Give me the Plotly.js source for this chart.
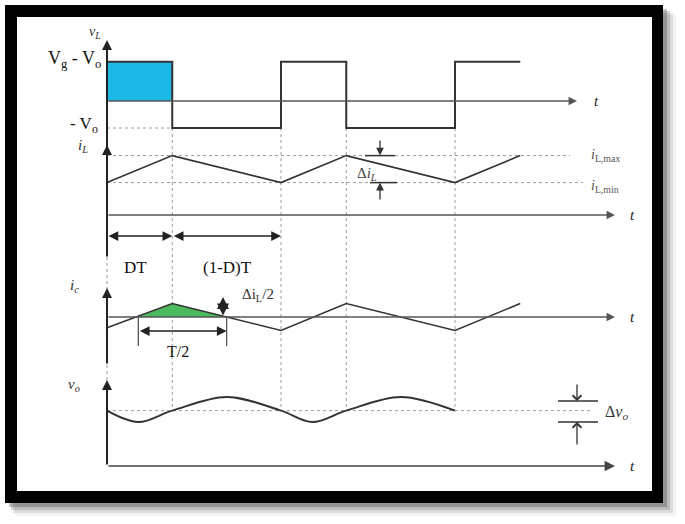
<!DOCTYPE html>
<html><head><meta charset="utf-8">
<script src="https://cdn.plot.ly/plotly-3.0.1.min.js"></script>
<style>html,body{margin:0;padding:0;background:#fff;} #chart{width:685px;height:524px;}</style>
</head><body><div id="chart"></div>
<script>
// ---------- data: time in units of T, signals in normalized units ----------
const tVL    = [0, 0.375, 0.375, 1, 1, 1.375, 1.375, 2, 2, 2.375];
const vL     = [1.45, 1.45, -1, -1, 1.45, 1.45, -1, -1, 1.45, 1.45];
const tTri   = [0, 0.375, 1, 1.375, 2, 2.375];
const iL     = [1.2, 2.2, 1.2, 2.2, 1.2, 2.2];
const ic     = [-0.4, 0.5, -0.5, 0.5, -0.5, 0.5];
const tVo    = [0, 0.18, 0.375, 0.6875, 1, 1.18, 1.375, 1.6875, 2];
const vo     = [2.05, 1.63, 2.05, 2.56, 2.05, 1.63, 2.05, 2.56, 2.05];
const tBlue  = [0, 0, 0.375, 0.375];
const vBlue  = [0, 1.45, 1.45, 0];
const tGreen = [0.18, 0.375, 0.6875];
const icGreen= [0, 0.5, 0];
const switchTimes = [0.375, 1, 1.375, 2];
const VgVo = 1.45, minusVo = -1, iLmax = 2.2, iLmin = 1.2, voAvg = 2.05;

// ---------- layout geometry ----------
const W = 685, H = 524, S = 27, X0 = 107, PT = 174;
const Z = {y: 101, y2: 215, y3: 317, y4: 466};   // pixel row of each panel's zero
const SERIF = 'Liberation Serif, Times New Roman, serif';
const tx = px => (px - X0) / PT;
const vy = (ax, py) => (Z[ax] - py) / S;
const pyOf = (ax, v) => Z[ax] - S * v;
const PX = px => px / W, PY = py => 1 - py / H;
const yr = z => [(z - H) / S, z / S];

const LINE = '#333';
const traces = [
  {x: tBlue, y: vBlue, yaxis: 'y', fill: 'toself', fillcolor: '#1cb8e6', line: {width: 0}, mode: 'lines'},
  {x: tGreen, y: icGreen, yaxis: 'y3', fill: 'toself', fillcolor: '#4cb95e', line: {width: 0}, mode: 'lines'},
  {x: tVL, y: vL, yaxis: 'y', mode: 'lines', line: {color: LINE, width: 2}},
  {x: tTri, y: iL, yaxis: 'y2', mode: 'lines', line: {color: LINE, width: 1.6}},
  {x: tTri, y: ic, yaxis: 'y3', mode: 'lines', line: {color: LINE, width: 1.6}},
  {x: tVo, y: vo, yaxis: 'y4', mode: 'lines', line: {color: LINE, width: 2, shape: 'spline', smoothing: 1}}
];

const shapes = [];
// frame with shadow
[[9,9,667,507,0.22],[11,11,670,510,0.14],[13,13,673,513,0.09],[15,15,676,516,0.05]].forEach(s => {
  shapes.push({type:'rect', xref:'paper', yref:'paper', x0:PX(s[0]), y0:PY(s[1]), x1:PX(s[2]), y1:PY(s[3]),
    fillcolor:'rgba(0,0,0,'+s[4]+')', line:{width:0}, layer:'below'});
});
shapes.push({type:'rect', xref:'paper', yref:'paper', x0:PX(5), y0:PY(5), x1:PX(663), y1:PY(503), fillcolor:'#000', line:{width:0}, layer:'below'});
shapes.push({type:'rect', xref:'paper', yref:'paper', x0:PX(17), y0:PY(17), x1:PX(652), y1:PY(491), fillcolor:'#fff', line:{width:0}, layer:'below'});

const DOT = {color:'#9a9a9a', width:1, dash:'dot'};
function hline(ax, v, t0, t1, line) { shapes.push({type:'line', xref:'x', yref:ax, x0:t0, x1:t1, y0:v, y1:v, line:line, layer:'below'}); }
function vlinePx(t, py0, py1, line) { shapes.push({type:'line', xref:'x', yref:'paper', x0:t, x1:t, y0:PY(py0), y1:PY(py1), line:line, layer:'below'}); }

hline('y', minusVo, 0, 0.375, DOT);
hline('y2', iLmax, 0, tx(570), DOT);
hline('y2', iLmin, 0, tx(583), DOT);
hline('y4', voAvg, 0, tx(593), DOT);
switchTimes.forEach(t => vlinePx(t, pyOf('y', minusVo), pyOf('y4', voAvg), DOT));
vlinePx(0, 101, 412, DOT);
// ΔiL ticks
hline('y2', iLmax, tx(365), tx(395), {color:'#333', width:1.5});
hline('y2', iLmin, tx(370), tx(397), {color:'#333', width:1.5});
// T/2 ticks
[tGreen[0], tGreen[2]].forEach(t => shapes.push({type:'line', xref:'x', yref:'y3', x0:t, x1:t, y0:0, y1:vy('y3',346), line:{color:'#555', width:1.3}}));
// Δvo ticks
hline('y4', vy('y4',401), tx(558), tx(598), {color:'#333', width:1.5});
hline('y4', vy('y4',422), tx(558), tx(598), {color:'#333', width:1.5});

const ann = [];
function arrow(ax, x, y, axv, ayv, o) {
  ann.push(Object.assign({xref:'x', yref:ax, axref:'x', ayref:ax, x:x, y:y, ax:axv, ay:ayv, text:'', showarrow:true,
    arrowhead:2, arrowsize:1.3, arrowwidth:1.4, arrowcolor:'#444', standoff:0, startstandoff:0}, o || {}));
}
function label(ax, x, y, text, o) {
  ann.push(Object.assign({xref:'x', yref:ax, x:x, y:y, text:text, showarrow:false, xanchor:'center', yanchor:'middle',
    font:{family:SERIF, size:15, color:'#222'}}, o || {}));
}
// time axes
arrow('y', tx(577), 0, 0, 0, {arrowcolor:'#555', arrowwidth:1.3});
arrow('y2', tx(615), 0, 0, 0, {arrowcolor:'#555', arrowwidth:1.3});
arrow('y3', tx(615), 0, 0, 0, {arrowcolor:'#555', arrowwidth:1.3});
arrow('y4', tx(615), 0, 0, 0, {arrowcolor:'#444', arrowwidth:1.6});
label('y', tx(596), 0, '<i>t</i>', {font:{family:SERIF, size:15, color:'#222'}});
['y2','y3','y4'].forEach(a => label(a, tx(632), 0, '<i>t</i>', {font:{family:SERIF, size:15, color:'#222'}}));
// vertical axes
arrow('y', 0, vy('y',40), 0, vy('y',258), {arrowcolor:'#222', arrowwidth:2, arrowsize:1});
arrow('y2', 0, vy('y2',145), 0, vy('y2',160), {arrowcolor:'#222', arrowwidth:2, arrowsize:1});
arrow('y3', 0, vy('y3',288), 0, vy('y3',365), {arrowcolor:'#222', arrowwidth:2, arrowsize:1});
arrow('y4', 0, vy('y4',380), 0, 0, {arrowcolor:'#222', arrowwidth:2, arrowsize:1});
// axis labels
label('y', tx(95), vy('y',32), '<i>v<sub>L</sub></i>', {font:{family:SERIF, size:14, color:'#333'}});
label('y', tx(103), VgVo + 0.08, 'V<sub>g</sub> - V<sub>o</sub>', {xanchor:'right', font:{family:SERIF, size:18, color:'#111'}});
label('y', tx(100), vy('y',125), '- V<sub>o</sub>', {xanchor:'right', font:{family:SERIF, size:17, color:'#111'}});
label('y2', tx(83), vy('y2',146), '<i>i<sub>L</sub></i>', {font:{family:SERIF, size:15, color:'#333'}});
label('y3', tx(74), vy('y3',286), '<i>i<sub>c</sub></i>', {font:{family:SERIF, size:15, color:'#333'}});
label('y4', tx(74), vy('y4',385), '<i>v<sub>o</sub></i>', {font:{family:SERIF, size:15, color:'#333'}});
// iL annotations
label('y2', tx(589), iLmax, '<i>i</i><sub>L,max</sub>', {xanchor:'left', font:{family:SERIF, size:14, color:'#555'}});
label('y2', tx(589), vy('y2',186), '<i>i</i><sub>L,min</sub>', {xanchor:'left', font:{family:SERIF, size:14, color:'#555'}});
arrow('y2', tx(380), iLmax, tx(380), vy('y2',139), {arrowcolor:'#333', arrowwidth:1.3, arrowsize:1.2});
arrow('y2', tx(380), iLmin, tx(380), vy('y2',201), {arrowcolor:'#333', arrowwidth:1.3, arrowsize:1.2});
label('y2', tx(367), vy('y2',174), 'Δ<i>i<sub>L</sub></i>', {font:{family:SERIF, size:15, color:'#444'}});
// DT / (1-D)T
arrow('y2', 0.375, vy('y2',236), 0, vy('y2',236), {arrowside:'end+start', startarrowhead:2, startarrowsize:1.3, arrowcolor:'#222', arrowwidth:1.5});
arrow('y2', 1, vy('y2',236), 0.375, vy('y2',236), {arrowside:'end+start', startarrowhead:2, startarrowsize:1.3, arrowcolor:'#222', arrowwidth:1.5});
label('y2', tx(135), vy('y2',267), 'DT', {font:{family:SERIF, size:17, color:'#111'}});
label('y2', tx(227), vy('y2',267), '(1-D)T', {font:{family:SERIF, size:17, color:'#111'}});
// ic annotations
arrow('y3', tx(223), vy('y3',297), tx(223), vy('y3',317), {arrowside:'end+start', startarrowhead:2, startarrowsize:1.6, arrowsize:1.6, arrowcolor:'#222', arrowwidth:1.5});
label('y3', tx(258), vy('y3',295), 'Δi<sub>L</sub>/2', {font:{family:SERIF, size:15, color:'#333'}});
arrow('y3', tGreen[2], vy('y3',331), tGreen[0], vy('y3',331), {arrowside:'end+start', startarrowhead:2, startarrowsize:1.3, arrowcolor:'#222', arrowwidth:1.5});
label('y3', tx(178), vy('y3',351), 'T/2', {font:{family:SERIF, size:16, color:'#111'}});
// Δvo
arrow('y4', tx(577), vy('y4',401), tx(577), vy('y4',383), {arrowhead:4, arrowsize:1.3, arrowcolor:'#333', arrowwidth:1.3});
arrow('y4', tx(577), vy('y4',422), tx(577), vy('y4',446), {arrowhead:4, arrowsize:1.3, arrowcolor:'#333', arrowwidth:1.3});
label('y4', tx(603), vy('y4',412), 'Δ<i>v<sub>o</sub></i>', {xanchor:'left', font:{family:SERIF, size:16, color:'#333'}});

const hidden = {visible:false, showgrid:false, zeroline:false, fixedrange:true};
const layout = {
  width: W, height: H, margin: {l:0, r:0, t:0, b:0, pad:0},
  paper_bgcolor: '#fff', plot_bgcolor: 'rgba(0,0,0,0)', showlegend: false,
  xaxis: Object.assign({range: [tx(0), tx(W)]}, hidden),
  yaxis: Object.assign({range: yr(Z.y)}, hidden),
  yaxis2: Object.assign({range: yr(Z.y2), overlaying:'y'}, hidden),
  yaxis3: Object.assign({range: yr(Z.y3), overlaying:'y'}, hidden),
  yaxis4: Object.assign({range: yr(Z.y4), overlaying:'y'}, hidden),
  shapes: shapes, annotations: ann
};
Plotly.newPlot('chart', traces, layout, {displayModeBar:false, staticPlot:true});
</script></body></html>
